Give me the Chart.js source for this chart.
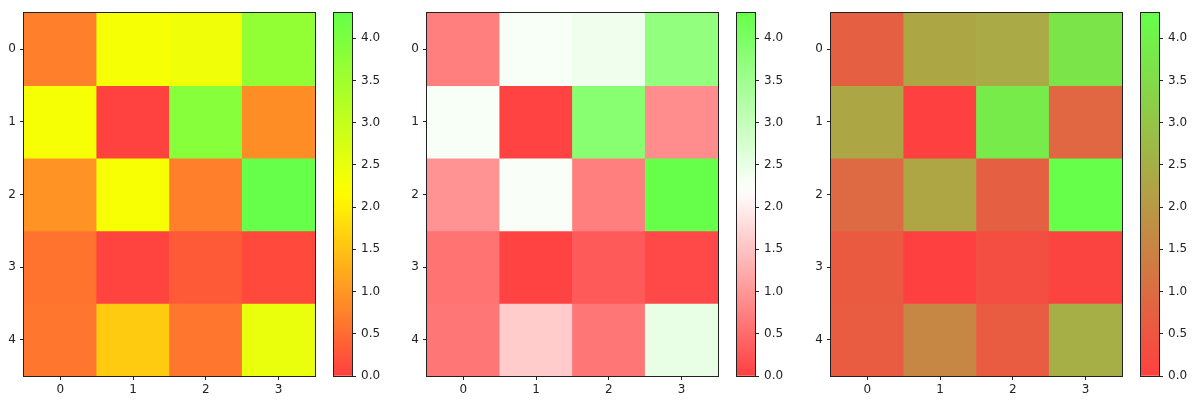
<!DOCTYPE html>
<html>
<head>
<meta charset="utf-8">
<script src="https://cdn.jsdelivr.net/npm/chart.js@4.4.1/dist/chart.umd.min.js"></script>
<style>
  html, body { margin: 0; padding: 0; background: #fff; width: 1200px; height: 401px; overflow: hidden; }
  canvas { position: absolute; top: 0; }
</style>
</head>
<body>
<canvas id="h0" width="320" height="401" style="left:0px"></canvas>
<canvas id="c0" width="62" height="401" style="left:330px"></canvas>
<canvas id="h1" width="320" height="401" style="left:403px"></canvas>
<canvas id="c1" width="62" height="401" style="left:733px"></canvas>
<canvas id="h2" width="320" height="401" style="left:807px"></canvas>
<canvas id="c2" width="62" height="401" style="left:1137px"></canvas>
<script>
// ---- data ----
const colLabels = ['0', '1', '2', '3'];
const rowLabels = [0, 1, 2, 3, 4];
const row0 = [0.72, 2.30, 2.40, 3.70];
const row1 = [2.30, 0.02, 3.85, 0.88];
const row2 = [0.95, 2.28, 0.72, 4.30];
const row3 = [0.58, 0.03, 0.30, 0.10];
const row4 = [0.62, 1.60, 0.62, 2.50];
const rows = [row0, row1, row2, row3, row4];
const cbTicks = [0.0, 0.5, 1.0, 1.5, 2.0, 2.5, 3.0, 3.5, 4.0];

// ---- colour maps ----
const RED = [255, 64, 64], YEL = [255, 255, 0], WHT = [255, 255, 255], GRN = [102, 255, 74];
const MID = 0.51;
function mix(a, b, t) { return a.map((v, i) => Math.round(v + (b[i] - v) * t)); }
function threeStop(mid) {
  return t => t <= MID ? mix(RED, mid, t / MID) : mix(mid, GRN, (t - MID) / (1 - MID));
}
const cmaps = [threeStop(YEL), threeStop(WHT), t => mix(RED, GRN, t)];
const vmin = 0;
const vmax = Math.max(...rows.flat());
function colorFor(cmap, v) {
  const t = Math.min(1, Math.max(0, (v - vmin) / (vmax - vmin)));
  const c = cmap(t);
  return `rgb(${c[0]},${c[1]},${c[2]})`;
}

const FONT = { family: 'DejaVu Sans', size: 12 };
const TXT = '#222';

const framePlugin = {
  id: 'frame',
  afterDraw(chart) {
    const a = chart.chartArea, ctx = chart.ctx;
    ctx.save();
    ctx.strokeStyle = '#222';
    ctx.lineWidth = 1;
    ctx.strokeRect(Math.round(a.left) - 0.5, Math.round(a.top) - 0.5,
      Math.round(a.right - a.left) + 1, Math.round(a.bottom - a.top) + 1);
    ctx.restore();
  }
};

function tickGrid() {
  return { display: true, drawOnChartArea: false, drawTicks: true, tickLength: 4,
           tickColor: '#222', tickWidth: 1, offset: false };
}

function heatmap(id, cmap) {
  const datasets = rows.map((vals, r) => ({
    label: 'row ' + r,
    data: vals.map(() => [rowLabels[r] - 0.5, rowLabels[r] + 0.5]),
    backgroundColor: vals.map(v => colorFor(cmap, v)),
    borderWidth: 0,
    grouped: false,
    barPercentage: 1,
    categoryPercentage: 1
  }));
  new Chart(document.getElementById(id), {
    type: 'bar',
    data: { labels: colLabels, datasets },
    options: {
      responsive: false, animation: false, devicePixelRatio: 1,
      layout: { padding: { top: 13, right: 5, left: 0, bottom: 0 } },
      plugins: { legend: { display: false }, tooltip: { enabled: false } },
      scales: {
        x: {
          type: 'category', offset: true,
          grid: tickGrid(), border: { display: false },
          ticks: { color: TXT, font: FONT, padding: 3, maxRotation: 0 },
          afterFit: s => { s.height = 25; }
        },
        y: {
          type: 'linear', reverse: true, min: -0.5, max: 4.5,
          grid: tickGrid(), border: { display: false },
          ticks: { color: TXT, font: FONT, padding: 4, callback: v => String(v) },
          afterBuildTicks: s => { s.ticks = rowLabels.map(v => ({ value: v })); },
          afterFit: s => { s.width = 24; }
        }
      }
    },
    plugins: [framePlugin]
  });
}

function colorbar(id, cmap) {
  new Chart(document.getElementById(id), {
    type: 'bar',
    data: {
      labels: ['cb'],
      datasets: [{
        data: [[vmin, vmax]],
        borderWidth: 0,
        barPercentage: 1, categoryPercentage: 1,
        backgroundColor: ctx => {
          const chart = ctx.chart, a = chart.chartArea;
          if (!a) return null;
          const g = chart.ctx.createLinearGradient(0, a.bottom, 0, a.top);
          for (let i = 0; i <= 40; i++) {
            const t = i / 40;
            const c = cmap(t);
            g.addColorStop(t, `rgb(${c[0]},${c[1]},${c[2]})`);
          }
          return g;
        }
      }]
    },
    options: {
      responsive: false, animation: false, devicePixelRatio: 1,
      layout: { padding: { top: 13, bottom: 25, left: 4, right: 0 } },
      plugins: { legend: { display: false }, tooltip: { enabled: false } },
      scales: {
        x: { display: false, offset: true },
        y: {
          type: 'linear', position: 'right', min: vmin, max: vmax,
          grid: tickGrid(), border: { display: false },
          ticks: { color: TXT, font: FONT, padding: 5, callback: v => Number(v).toFixed(1) },
          afterBuildTicks: s => { s.ticks = cbTicks.map(v => ({ value: v })); },
          afterFit: s => { s.width = 40; }
        }
      }
    },
    plugins: [framePlugin]
  });
}

cmaps.forEach((cm, i) => { heatmap('h' + i, cm); colorbar('c' + i, cm); });
</script>
</body>
</html>
